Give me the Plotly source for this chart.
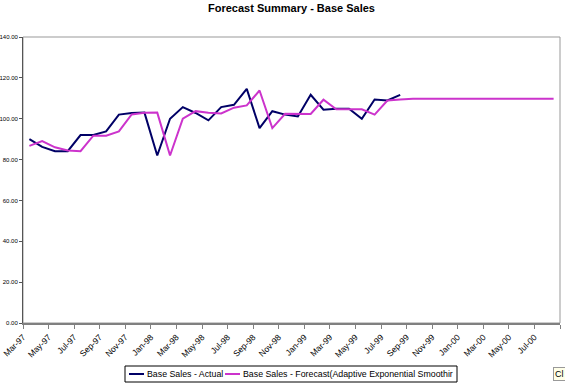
import plotly.graph_objects as go

months = ["Mar-97", "Apr-97", "May-97", "Jun-97", "Jul-97", "Aug-97", "Sep-97", "Oct-97", "Nov-97", "Dec-97",
          "Jan-98", "Feb-98", "Mar-98", "Apr-98", "May-98", "Jun-98", "Jul-98", "Aug-98", "Sep-98", "Oct-98",
          "Nov-98", "Dec-98", "Jan-99", "Feb-99", "Mar-99", "Apr-99", "May-99", "Jun-99", "Jul-99", "Aug-99",
          "Sep-99", "Oct-99", "Nov-99", "Dec-99", "Jan-00", "Feb-00", "Mar-00", "Apr-00", "May-00", "Jun-00",
          "Jul-00", "Aug-00"]

actual = [90.0, 86.2, 84.1, 84.1, 92.0, 92.0, 93.8, 102.0, 102.8, 103.0,
          82.0, 100.0, 105.7, 102.8, 99.2, 105.7, 106.8, 114.6, 95.4, 103.7,
          102.0, 101.1, 111.7, 104.4, 104.9, 104.9, 100.0, 109.4, 108.9, 111.7]

forecast = [86.7, 89.1, 86.0, 84.4, 84.1, 91.7, 91.7, 93.8, 102.1, 102.9,
            103.0, 82.0, 100.0, 103.7, 102.9, 102.6, 105.4, 106.5, 113.8, 95.4,
            102.4, 102.3, 102.3, 109.3, 104.6, 104.6, 104.6, 102.0, 108.9, 109.4,
            109.8, 109.8, 109.8, 109.8, 109.8, 109.8, 109.8, 109.8, 109.8, 109.8,
            109.8, 109.8]

y_ticks = [0, 20, 40, 60, 80, 100, 120, 140]

name_actual = "Base Sales - Actual"
name_forecast = "Base Sales - Forecast(Adaptive Exponential Smoothir"
title_text = "Forecast Summary - Base Sales"

color_actual = "#000066"
color_forecast = "#cc33cc"

W, H = 565, 386
L, R, T, B = 23, 5, 37, 63
PW, PH = W - L - R, H - T - B


def px(x):
    return (x - L) / PW


def py(y):
    return (H - B - y) / PH


idx = list(range(len(months)))

fig = go.Figure()
fig.add_trace(go.Scatter(x=idx[:len(actual)], y=actual, mode="lines", name=name_actual,
                         line=dict(color=color_actual, width=2)))
fig.add_trace(go.Scatter(x=idx[:len(forecast)], y=forecast, mode="lines", name=name_forecast,
                         line=dict(color=color_forecast, width=2)))

tickvals = [i - 0.5 for i in range(0, len(months), 2)] + [len(months) - 0.5]
ticktext = months[::2] + [""]

# custom legend (box, line samples, texts)
leg_y = 374
shapes = [
    dict(type="rect", xref="paper", yref="paper", x0=0, y0=0, x1=1, y1=1,
         line=dict(color="#999999", width=1), layer="below"),
    dict(type="rect", xref="paper", yref="paper", x0=px(125), x1=px(457), y0=py(366), y1=py(382),
         line=dict(color="black", width=1), fillcolor="white"),
    dict(type="line", xref="paper", yref="paper", x0=px(129), x1=px(144), y0=py(leg_y), y1=py(leg_y),
         line=dict(color=color_actual, width=2)),
    dict(type="line", xref="paper", yref="paper", x0=px(225), x1=px(240), y0=py(leg_y), y1=py(leg_y),
         line=dict(color=color_forecast, width=2)),
]
annotations = [
    dict(text=name_actual, xref="paper", yref="paper", x=px(145), y=py(leg_y), xanchor="left",
         yanchor="middle", showarrow=False, font=dict(size=8.8)),
    dict(text=name_forecast, xref="paper", yref="paper", x=px(241), y=py(leg_y), xanchor="left",
         yanchor="middle", showarrow=False, font=dict(size=8.8)),
    dict(text="Cl", xref="paper", yref="paper", x=px(553), y=py(374), xanchor="left", yanchor="middle",
         showarrow=False, font=dict(size=9), bgcolor="#ffffe8", bordercolor="#999999",
         borderwidth=1, borderpad=1),
]

fig.update_layout(
    width=W, height=H,
    margin=dict(l=L, r=R, t=T, b=B, autoexpand=False),
    paper_bgcolor="white", plot_bgcolor="white",
    font=dict(family="Liberation Sans, Arial, sans-serif", color="black"),
    title=dict(text="<b>" + title_text + "</b>", x=0.5, xanchor="center", xref="paper",
               y=1 - 4 / H, yanchor="top", yref="container",
               font=dict(size=11, color="black")),
    showlegend=False,
    xaxis=dict(range=[-0.5, len(months) - 0.5], tickmode="array", tickvals=tickvals, ticktext=ticktext,
               tickangle=-45, tickfont=dict(size=8.5), ticks="outside", ticklen=4, tickcolor="#808080",
               showgrid=False, zeroline=False, showline=True, linecolor="#808080", linewidth=2,
               automargin=False),
    yaxis=dict(range=[0, 140], tickmode="array", tickvals=y_ticks,
               ticktext=["%.2f" % v for v in y_ticks], tickfont=dict(size=6),
               ticks="outside", ticklen=3, tickcolor="#555555",
               showgrid=False, zeroline=False, showline=True, linecolor="#555555", linewidth=1,
               automargin=False),
    shapes=shapes,
    annotations=annotations,
)

fig.write_html("out.html", config={"displayModeBar": False},
               post_script="document.body.style.margin='0';document.body.style.overflow='hidden';")
